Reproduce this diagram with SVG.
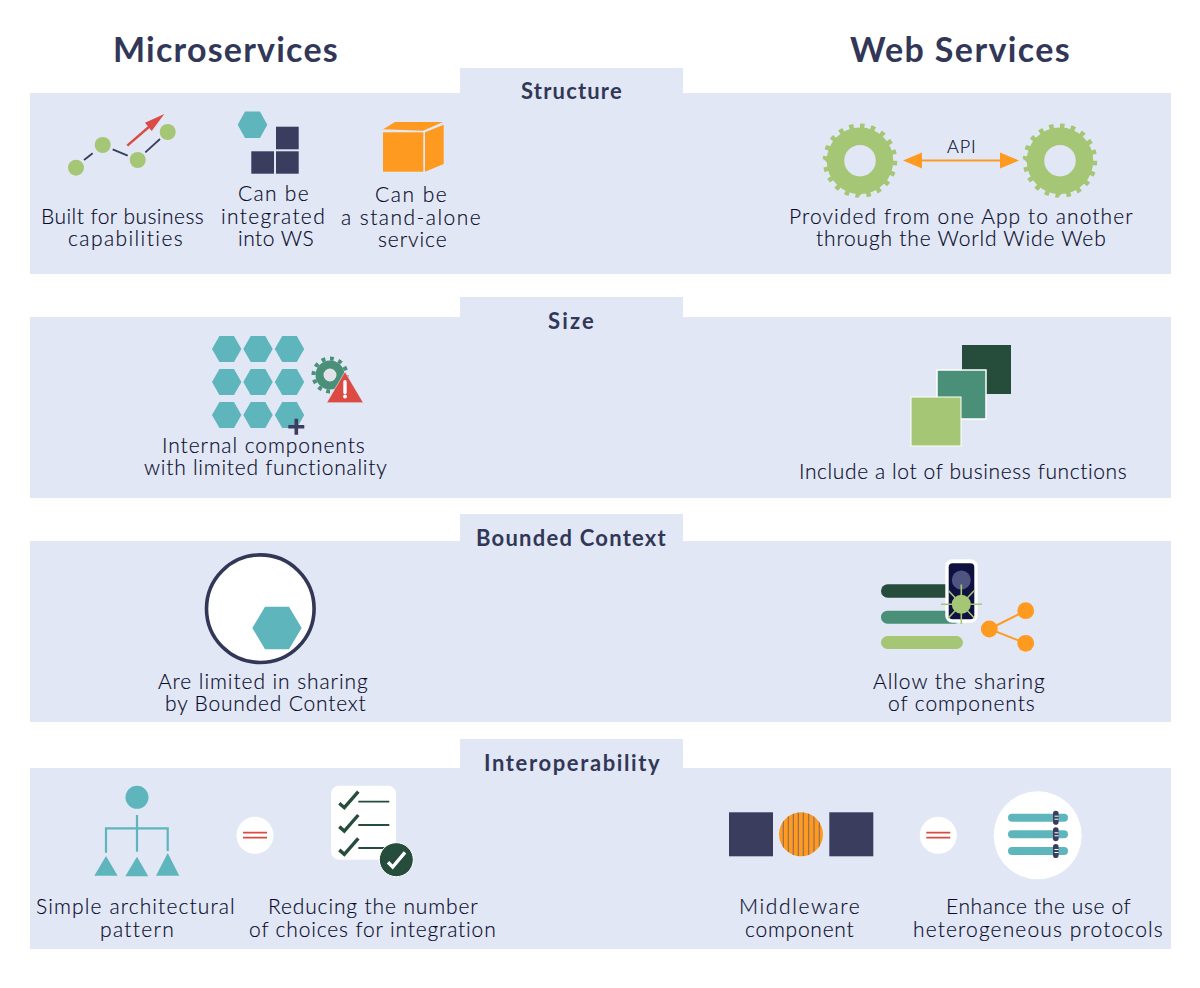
<svg xmlns="http://www.w3.org/2000/svg" xmlns:xlink="http://www.w3.org/1999/xlink" width="1200" height="988" viewBox="0 0 1200 988">
<style>
text{font-family:"Lato","Liberation Sans",sans-serif;fill:#080a2a;font-size:21px;font-weight:300;letter-spacing:.3px;stroke:#080a2a;stroke-width:.15px}
.h{font-size:34px;font-weight:700;fill:#323757;stroke:none}
.s{font-size:22px;font-weight:700;fill:#323757;stroke:none}
.panel{fill:#e1e7f5}
.teal{fill:#5eb6bc}
.navy{fill:#3b3d5f}
.org{fill:#ff9a20}
.grn{fill:#a5c675}
.tl{stroke:#5eb6bc;stroke-width:2.2;fill:none}
.ck{fill:none;stroke:#264d3b;stroke-width:3.4}
.ln{stroke:#264d3b;stroke-width:1.8}
.ray{stroke:#a5c675;stroke-width:1.6}
.eq{stroke:#dc4b43;stroke-width:1.8}
.stripe{stroke:#8a6a5a;stroke-width:1.1}
</style>
<defs>
<polygon id="hex" points="-14.7,0 -7.3,-13 7.3,-13 14.7,0 7.3,13 -7.3,13" class="teal"/>
<g id="gear" fill="none" stroke="#a5c675">
<circle r="24.5" stroke-width="17.5"/>
<circle r="34.7" stroke-width="5" pathLength="20" stroke-dasharray=".42 .58"/>
</g>
<g id="eqsign">
<circle r="18.5" fill="#fff"/>
<path class="eq" d="M-12,-2.6H12M-12,2.4H12"/>
</g>
<g id="slider">
<rect x="1008" y="-4" width="60" height="8" rx="4" class="teal"/>
<rect x="1053" y="-7" width="5.6" height="14" rx="2.8" class="navy"/>
<path d="M1054.5,-1.5h4M1054.5,1.5h4" stroke="#fff" stroke-width="1"/>
</g>
<clipPath id="oc"><circle cx="801" cy="834.3" r="22"/></clipPath>
</defs>
<rect width="1200" height="988" fill="#fff"/>

<g id="panels">
<rect class="panel" x="30" y="93" width="1141" height="181"/>
<rect class="panel" x="460" y="68" width="223" height="26"/>
<rect class="panel" x="30" y="317" width="1141" height="181"/>
<rect class="panel" x="460" y="297" width="223" height="21"/>
<rect class="panel" x="30" y="541" width="1141" height="181"/>
<rect class="panel" x="460" y="514" width="223" height="28"/>
<rect class="panel" x="30" y="768" width="1141" height="181"/>
<rect class="panel" x="460" y="739" width="223" height="30"/>
</g>

<g id="headings">
<text class="h" x="113" y="62" textLength="225">Microservices</text>
<text class="h" x="850" y="62" textLength="220">Web Services</text>
<text class="s" x="521" y="99" textLength="101">Structure</text>
<text class="s" x="548" y="329" textLength="46">Size</text>
<text class="s" x="476" y="546" textLength="190">Bounded Context</text>
<text class="s" x="484" y="771" textLength="176">Interoperability</text>
</g>

<g id="connectors">
<path d="M84,160L92.7,153.3M112.7,149.3L127.7,155.7M145.3,152.3L160,139" stroke="#3b3d5f" stroke-width="1.8" fill="none"/>
<path d="M127.3,145.7L150,126" stroke="#dc4b43" stroke-width="2.4"/>
<polygon points="145,122.7 164.3,114 151.7,131" fill="#dc4b43"/>
<path d="M915,160.5H1006" stroke="#ff9a20" stroke-width="2.2"/>
<polygon points="903,160.5 922,152.5 922,168.5" class="org"/>
<polygon points="1019,160.5 1000,152.5 1000,168.5" class="org"/>
</g>

<g id="business-capabilities">
<circle cx="76" cy="167.7" r="8" class="grn"/>
<circle cx="102.7" cy="145" r="8" class="grn"/>
<circle cx="137.7" cy="160" r="8" class="grn"/>
<circle cx="167.7" cy="132" r="8" class="grn"/>
<text x="41" y="224" textLength="163">Built for business</text>
<text x="68" y="246" textLength="115">capabilities</text>
</g>

<g id="integrated-ws">
<polygon points="237.7,112.3 245,99 260,99 267.3,112.3 260,125.5 245,125.5" class="teal" transform="translate(0,12.5)"/>
<rect class="navy" x="276" y="126.7" width="22.7" height="22.6"/>
<rect class="navy" x="251.3" y="151.3" width="22.7" height="22.4"/>
<rect class="navy" x="276" y="151.3" width="22.7" height="22.4"/>
<text x="238" y="201" textLength="71">Can be</text>
<text x="221" y="224" textLength="104">integrated</text>
<text x="238" y="246" textLength="76">into WS</text>
</g>

<g id="stand-alone">
<rect class="org" x="383" y="132.3" width="40.3" height="39.4"/>
<polygon class="org" points="383,129.3 395,122 443,122 423,130.7"/>
<polygon class="org" points="425,132.3 443.7,124.7 443.7,164 425,171.7"/>
<text x="375" y="202" textLength="72">Can be</text>
<text x="341" y="225" textLength="140">a stand-alone</text>
<text x="378" y="247" textLength="69">service</text>
</g>

<g id="web-api">
<use xlink:href="#gear" href="#gear" transform="translate(860,160.7)"/>
<use xlink:href="#gear" href="#gear" transform="translate(1060,160.7)"/>
<text x="947" y="153" textLength="29" style="font-size:18px">API</text>
<text x="789" y="224" textLength="344">Provided from one App to another</text>
<text x="816" y="246" textLength="290">through the World Wide Web</text>
</g>

<g id="size-micro">
<use xlink:href="#hex" href="#hex" x="226.7" y="349"/>
<use xlink:href="#hex" href="#hex" x="258" y="349"/>
<use xlink:href="#hex" href="#hex" x="289.5" y="349"/>
<use xlink:href="#hex" href="#hex" x="226.7" y="382"/>
<use xlink:href="#hex" href="#hex" x="258" y="382"/>
<use xlink:href="#hex" href="#hex" x="289.5" y="382"/>
<use xlink:href="#hex" href="#hex" x="226.7" y="415"/>
<use xlink:href="#hex" href="#hex" x="258" y="415"/>
<use xlink:href="#hex" href="#hex" x="289.5" y="415"/>
<path d="M288.3,426.7H304.3M296.3,418.7V434.7" stroke="#3b3d5f" stroke-width="3.6"/>
<circle cx="330" cy="375" r="10.5" fill="#e0e3e8" stroke="#4a8f78" stroke-width="8"/>
<circle cx="330" cy="375" r="16.5" fill="none" stroke="#4a8f78" stroke-width="4" pathLength="12" stroke-dasharray=".45 .55"/>
<polygon points="345,371.7 326.7,402.7 363.3,402.7" fill="#dc4b43" stroke="#e1e7f5" stroke-width=".6"/>
<path d="M345,381.7V392.5" stroke="#fff" stroke-width="3.4" stroke-linecap="round"/>
<circle cx="345" cy="396.5" r="1.9" fill="#fff"/>
<text x="162" y="453" textLength="203">Internal components</text>
<text x="144" y="475" textLength="243">with limited functionality</text>
</g>

<g id="size-web">
<rect x="962" y="345" width="49" height="49" fill="#264d3b"/>
<rect x="937" y="370" width="49" height="49" fill="#4a8f78" stroke="#fff" stroke-width="1.5"/>
<rect x="911" y="397" width="50" height="49" class="grn" stroke="#fff" stroke-width="1"/>
<text x="799" y="479" textLength="328">Include a lot of business functions</text>
</g>

<g id="bounded-micro">
<circle cx="260.3" cy="608.7" r="53.8" fill="#fff" stroke="#323757" stroke-width="3.6"/>
<polygon points="252.3,628 265,606.7 289,606.7 301.7,628 289,649.3 265,649.3" class="teal"/>
<text x="158" y="689" textLength="210">Are limited in sharing</text>
<text x="165" y="711" textLength="201">by Bounded Context</text>
</g>

<g id="bounded-web">
<rect x="881" y="584.3" width="72" height="13.4" rx="6.7" fill="#264d3b"/>
<rect x="881" y="610.7" width="80" height="13" rx="6.5" fill="#4a8f78"/>
<rect x="881" y="636" width="82" height="13" rx="6.5" class="grn"/>
<rect x="945.3" y="559.3" width="32.4" height="63.4" rx="7" fill="#fff"/>
<rect x="948.7" y="563.3" width="25.6" height="56" rx="4" fill="#0f1240"/>
<circle cx="961.3" cy="580" r="9.5" fill="#4f5480"/>
<path class="ray" d="M941,604.3H982M961.3,584.5V624M948.3,590.5L974.3,618M974.3,590.5L948.3,618"/>
<circle cx="961.3" cy="604.3" r="9.5" class="grn"/>
<path d="M1025.7,610.7L989.3,629L1025.7,643.3" fill="none" stroke="#ff9a20" stroke-width="2"/>
<circle cx="989.3" cy="629" r="8.4" class="org"/>
<circle cx="1025.7" cy="610.7" r="8.4" class="org"/>
<circle cx="1025.7" cy="643.3" r="8.4" class="org"/>
<text x="873" y="689" textLength="172">Allow the sharing</text>
<text x="888" y="711" textLength="147">of components</text>
</g>

<g id="interop-pattern">
<circle cx="137" cy="797.3" r="11.5" class="teal"/>
<path class="tl" d="M137,815V851.7M106,852.7V828.3H167.7V851"/>
<polygon class="teal" points="106,856 94.3,875.7 117.7,875.7"/>
<polygon class="teal" points="137,856.7 125.3,876.3 148.3,876.3"/>
<polygon class="teal" points="167.7,853 156,875.7 179.3,875.7"/>
<text x="36" y="914" textLength="199">Simple architectural</text>
<text x="100" y="937" textLength="74">pattern</text>
</g>

<g id="interop-eq-1"><use xlink:href="#eqsign" href="#eqsign" x="255" y="835.3"/></g>

<g id="interop-checklist">
<rect x="331" y="785.7" width="65" height="74" rx="8" fill="#fff"/>
<path class="ck" d="M339.3,803.3L344.3,807.7L358.3,791.7M339.3,826.6L344.3,831L358.3,815M339.3,849.9L344.3,854.3L358.3,838.3"/>
<path class="ln" d="M358.3,801.7H389.3M358.3,825H389.3M358.3,848H389.3"/>
<circle cx="396.3" cy="859.7" r="17" fill="#264d3b" stroke="#fff" stroke-width="1"/>
<path d="M388,862.3L392.7,867L405,852.3" fill="none" stroke="#fff" stroke-width="3.4"/>
<text x="268" y="914" textLength="210">Reducing the number</text>
<text x="249" y="937" textLength="247">of choices for integration</text>
</g>

<g id="interop-middleware">
<rect x="729" y="812.3" width="44" height="44" class="navy"/>
<rect x="829.3" y="812.3" width="44" height="44" class="navy"/>
<circle cx="801" cy="834.3" r="22" class="org"/>
<g clip-path="url(#oc)"><path class="stripe" d="M783.3,810V860M788.3,810V860M793.3,810V860M798.3,810V860M803.3,810V860M808.7,810V860M814,810V860M819.3,810V860"/></g>
<text x="739" y="914" textLength="121">Middleware</text>
<text x="745" y="937" textLength="109">component</text>
</g>

<g id="interop-eq-2"><use xlink:href="#eqsign" href="#eqsign" x="938.3" y="835.3"/></g>

<g id="interop-protocols">
<circle cx="1037.7" cy="835.3" r="44" fill="#fff"/>
<use xlink:href="#slider" href="#slider" y="817.7"/>
<use xlink:href="#slider" href="#slider" y="834.3"/>
<use xlink:href="#slider" href="#slider" y="851"/>
<text x="946" y="914" textLength="185">Enhance the use of</text>
<text x="913" y="937" textLength="250">heterogeneous protocols</text>
</g>
</svg>
